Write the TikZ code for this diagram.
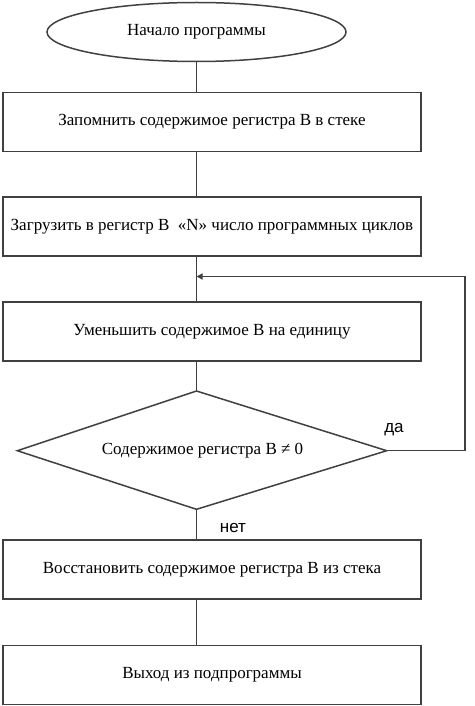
\documentclass[tikz,border=0pt]{standalone}
\usepackage{fontspec}
\setmainfont{Liberation Serif}
\newfontfamily\labelfont{Liberation Sans}
\usetikzlibrary{shapes.geometric,arrows.meta}
\definecolor{ln}{HTML}{404040}
\tikzset{
  stepbox/.style={draw=ln, line width=1.5pt, rectangle, minimum width=418pt, minimum height=59pt, inner sep=0pt, font=\fontsize{17}{20}\selectfont},
  termbox/.style={draw=ln, line width=1.5pt, ellipse, minimum width=299pt, minimum height=59pt, inner sep=0pt, font=\fontsize{17}{20}\selectfont},
  conn/.style={draw=ln, line width=1.5pt},
  lbl/.style={font=\labelfont\fontsize{17}{20}\selectfont, inner sep=0pt},
}
\begin{document}
\begin{tikzpicture}[x=1pt,y=-1pt]
\useasboundingbox (0,0) rectangle (474,706);
\node[termbox] (start) at (196.5,32) {Начало программы};
\node[stepbox] (b1) at (212,122) {Запомнить содержимое регистра В в стеке};
\node[stepbox] (b2) at (212,226.5) {Загрузить в регистр В \ «N» число программных циклов};
\node[stepbox] (b3) at (212,331.5) {Уменьшить содержимое В на единицу};
\coordinate (dT) at (196.5,391);
\coordinate (dL) at (17.3,450.7);
\coordinate (dR) at (386.7,450.7);
\coordinate (dB) at (196.5,509.3);
\draw[conn] (dT) -- (dR) -- (dB) -- (dL) -- cycle;
\node[inner sep=0pt, font=\fontsize{17}{20}\selectfont] (dec) at (202.5,450.7) {Содержимое регистра В ≠ 0};
\node[stepbox] (b4) at (212,569.5) {Восстановить содержимое регистра В из стека};
\node[stepbox] (b5) at (212,675) {Выход из подпрограммы};
\coordinate (j) at (196.5,276.5);
\coordinate (r1) at (465,450.7);
\coordinate (r2) at (465,276.5);
\draw[conn] (start.south) -- (start.south |- b1.north);
\draw[conn] (b1.south -| start.south) -- (b2.north -| start.south);
\draw[conn] (b2.south -| start.south) -- (b3.north -| start.south);
\draw[conn] (b3.south -| dT) -- (dT);
\draw[conn] (dB) -- (b4.north -| dB);
\draw[conn] (b4.south -| dB) -- (b5.north -| dB);
\draw[conn, -{Triangle[length=6pt,width=6pt]}] (dR) -- (r1) -- (r2) -- (j);
\node[lbl] (yes) at (394,430) {да};
\node[lbl] (no) at (233,528) {нет};
\end{tikzpicture}
\end{document}
